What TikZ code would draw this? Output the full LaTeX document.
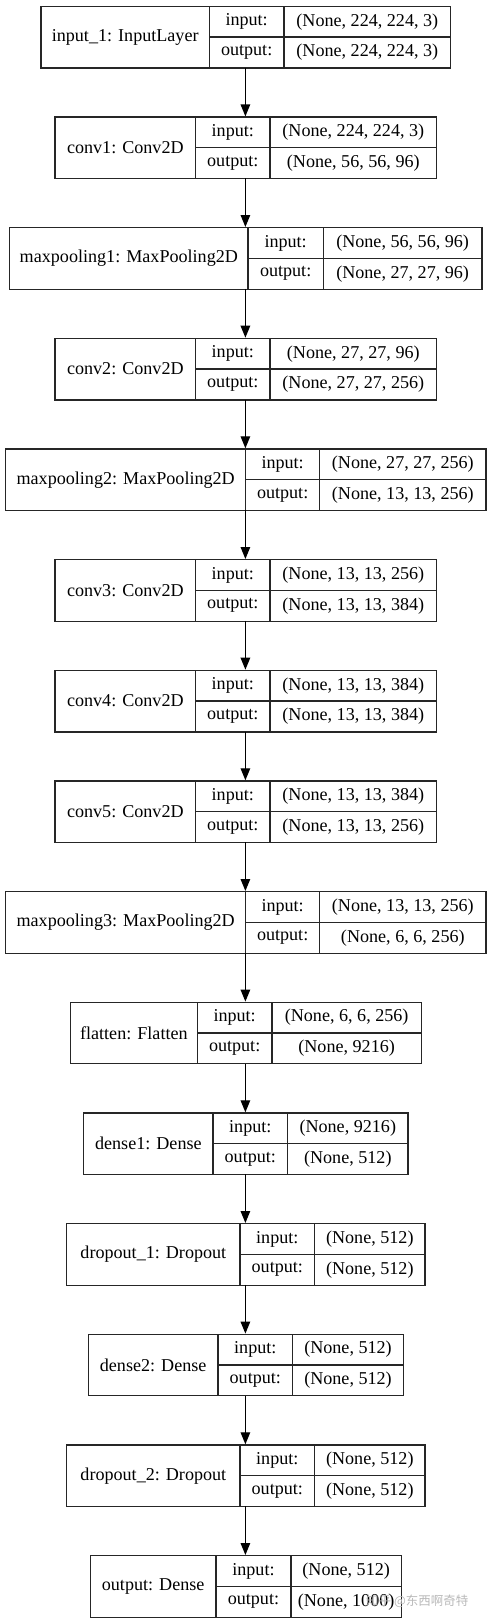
\documentclass[tikz,border=0pt]{standalone}
\usepackage{fontspec}
\setmainfont{Liberation Serif}
\newfontfamily\cjkwm{Noto Sans CJK SC}
\usetikzlibrary{arrows.meta}
\tikzset{
  cell/.style={draw=black!85, line width=1.3pt, inner sep=0pt, anchor=north west,
    font=\fontsize{18.1}{21}\selectfont},
  boxarea/.style={inner sep=0pt, anchor=north west, minimum height=61.5pt},
  flow/.style={draw=black, line width=1.3pt, -{Triangle[length=12pt,width=9.5pt]}},
  wmark/.style={font=\cjkwm\fontsize{12.5}{14}\selectfont, text=gray!55, anchor=west, inner sep=0pt},
}
% #1 id, #2 top, #3 left, #4 div1, #5 div2, #6 right, #7 name, #8 in, #9 out
\newcommand\kerasLayer[9]{%
  \node[boxarea, minimum width=#6pt-#3pt] (#1) at (#3,#2) {};
  \node[cell, minimum width=#4pt-#3pt, minimum height=61.5pt] (#1-name) at (#3,#2) {#7};
  \node[cell, minimum width=#5pt-#4pt, minimum height=30.75pt] (#1-il) at (#4,#2) {input:};
  \node[cell, minimum width=#6pt-#5pt, minimum height=30.75pt] (#1-iv) at (#5,#2) {#8};
  \node[cell, minimum width=#5pt-#4pt, minimum height=30.75pt] (#1-ol) at (#4,#2+30.75) {output:};
  \node[cell, minimum width=#6pt-#5pt, minimum height=30.75pt] (#1-ov) at (#5,#2+30.75) {#9};
}
\begin{document}
\begin{tikzpicture}[x=1pt,y=-1pt]
\useasboundingbox (0,0) rectangle (491,1623);
\kerasLayer{l0}{5.7}{40.4}{208.7}{283.3}{450}{input\_1: InputLayer}{(None, 224, 224, 3)}{(None, 224, 224, 3)}
\kerasLayer{l1}{116.4}{54.4}{195}{269.3}{436}{conv1: Conv2D}{(None, 224, 224, 3)}{(None, 56, 56, 96)}
\kerasLayer{l2}{227.0}{9.1}{247.3}{322.7}{481.3}{maxpooling1: MaxPooling2D}{(None, 56, 56, 96)}{(None, 27, 27, 96)}
\kerasLayer{l3}{337.7}{54.4}{195}{269.3}{436}{conv2: Conv2D}{(None, 27, 27, 96)}{(None, 27, 27, 256)}
\kerasLayer{l4}{448.3}{5.1}{245}{319}{485.3}{maxpooling2: MaxPooling2D}{(None, 27, 27, 256)}{(None, 13, 13, 256)}
\kerasLayer{l5}{559.0}{54.4}{195}{269.3}{436}{conv3: Conv2D}{(None, 13, 13, 256)}{(None, 13, 13, 384)}
\kerasLayer{l6}{669.7}{54.4}{195}{269.3}{436}{conv4: Conv2D}{(None, 13, 13, 384)}{(None, 13, 13, 384)}
\kerasLayer{l7}{780.3}{54.4}{195}{269.3}{436}{conv5: Conv2D}{(None, 13, 13, 384)}{(None, 13, 13, 256)}
\kerasLayer{l8}{891.0}{5.1}{245}{319}{485.3}{maxpooling3: MaxPooling2D}{(None, 13, 13, 256)}{(None, 6, 6, 256)}
\kerasLayer{l9}{1001.6}{69.7}{196.7}{271.3}{420.7}{flatten: Flatten}{(None, 6, 6, 256)}{(None, 9216)}
\kerasLayer{l10}{1112.3}{83.1}{212.3}{287}{407.3}{dense1: Dense}{(None, 9216)}{(None, 512)}
\kerasLayer{l11}{1223.0}{66.1}{239.3}{314}{424.3}{dropout\_1: Dropout}{(None, 512)}{(None, 512)}
\kerasLayer{l12}{1333.6}{87.7}{217.3}{292}{402.7}{dense2: Dense}{(None, 512)}{(None, 512)}
\kerasLayer{l13}{1444.3}{66.1}{239.3}{314}{424.3}{dropout\_2: Dropout}{(None, 512)}{(None, 512)}
\kerasLayer{l14}{1555.0}{89.7}{215.3}{290.3}{400.7}{output: Dense}{(None, 512)}{(None, 1000)}
\foreach \a/\b in {l0/l1,l1/l2,l2/l3,l3/l4,l4/l5,l5/l6,l6/l7,l7/l8,l8/l9,l9/l10,l10/l11,l11/l12,l12/l13,l13/l14}
  \draw[flow] (\a.south) -- (\b.north);
\node[wmark] (wm) at (366,1601) {知乎 @东西啊奇特};
\end{tikzpicture}
\end{document}
